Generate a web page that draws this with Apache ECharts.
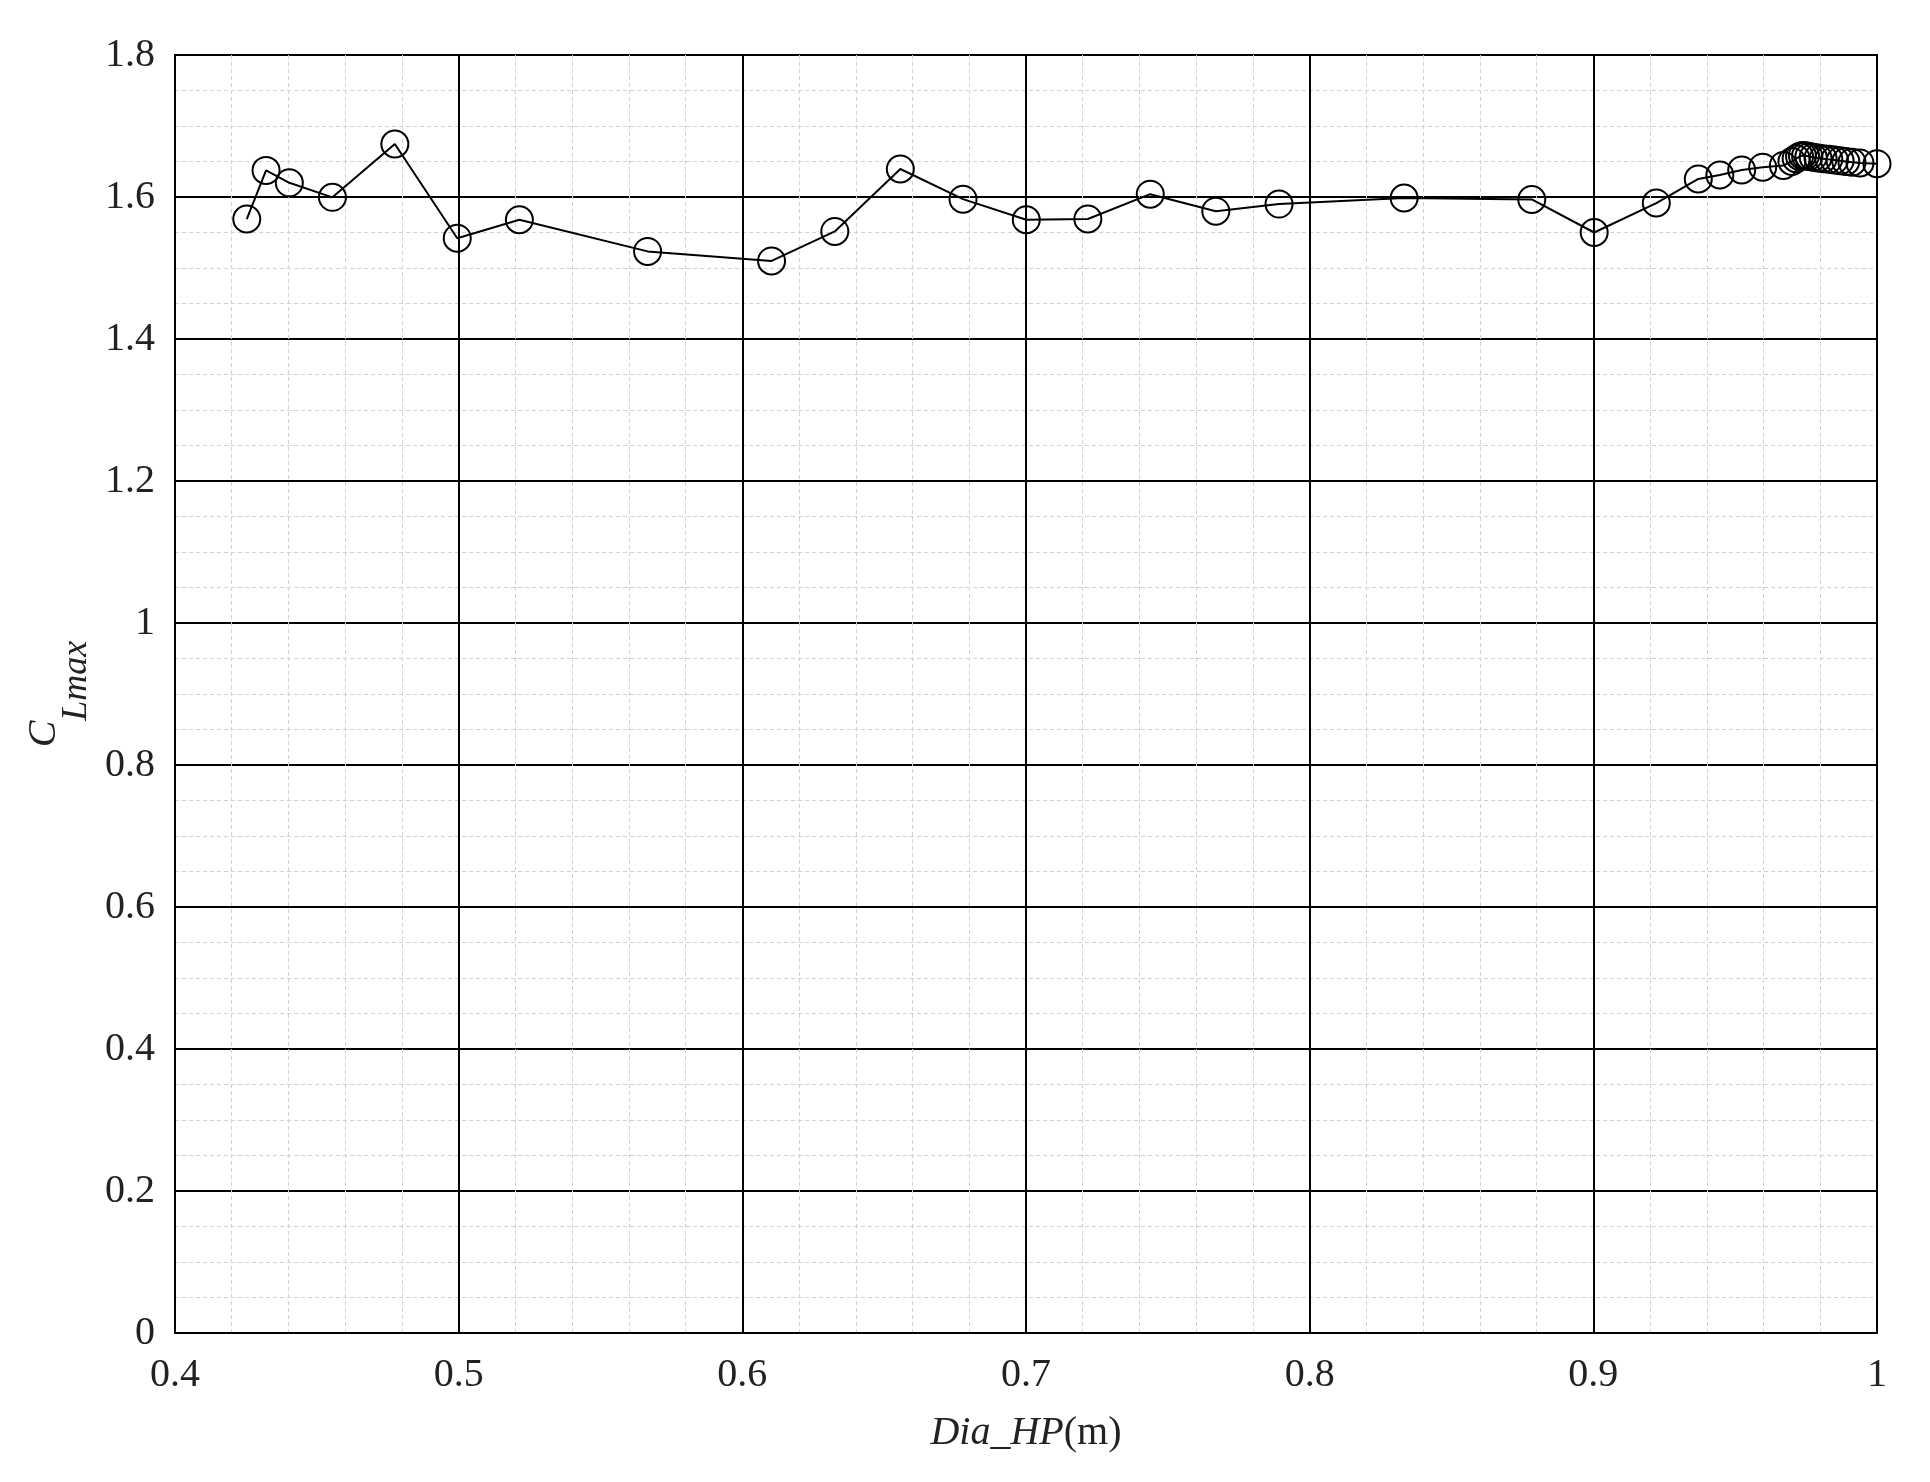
<!DOCTYPE html>
<html>
<head>
<meta charset="utf-8">
<script src="https://cdn.jsdelivr.net/npm/echarts@6/dist/echarts.min.js"></script>
<style>
html,body{margin:0;padding:0;background:#fff;}
#chart{width:1930px;height:1482px;}
</style>
</head>
<body>
<div id="chart"></div>
<script>
// Data
var diaHP = [0.4253, 0.4321, 0.4403, 0.4555, 0.4775, 0.4995, 0.5214, 0.5666, 0.6103,
  0.6326, 0.6557, 0.6778, 0.7001, 0.7218, 0.7438, 0.7669, 0.7892, 0.8333, 0.8783,
  0.9003, 0.9222, 0.9370, 0.9446, 0.9523, 0.9597, 0.9670,
  0.9700, 0.9715, 0.9727, 0.9737, 0.9748, 0.9760, 0.9775, 0.9792, 0.9810, 0.9830,
  0.9850, 0.9870, 0.9890, 0.9912, 0.9940, 1.0000];
var clMax = [1.569, 1.6375, 1.620, 1.5995, 1.6746, 1.542, 1.568, 1.5234, 1.510,
  1.5515, 1.6394, 1.597, 1.568, 1.569, 1.604, 1.580, 1.590, 1.5986, 1.5965,
  1.550, 1.5915, 1.6254, 1.631, 1.638, 1.642, 1.6445,
  1.650, 1.654, 1.657, 1.6585, 1.658, 1.657, 1.656, 1.655, 1.654, 1.653,
  1.652, 1.651, 1.650, 1.649, 1.648, 1.647];
var xTicks = {min: 0.4, max: 1.0, interval: 0.1};
var yTicks = {min: 0, max: 1.8, interval: 0.2};

var points = diaHP.map(function (x, i) { return [x, clMax[i]]; });

var chart = echarts.init(document.getElementById('chart'), null, {renderer: 'canvas'});
var fontFam = '"Liberation Serif", "Times New Roman", serif';
var minorLine = {show: true, lineStyle: {color: '#d2d2d2', width: 1, type: [4, 3]}};
chart.setOption({
  animation: false,
  backgroundColor: '#fff',
  grid: {left: 175, right: 53, top: 55, bottom: 149, show: true, borderColor: '#000', borderWidth: 2, backgroundColor: 'transparent'},
  xAxis: {
    type: 'value', min: xTicks.min, max: xTicks.max, interval: xTicks.interval,
    axisLine: {show: true, onZero: false, lineStyle: {color: '#000', width: 2}},
    axisTick: {show: false},
    axisLabel: {color: '#222', fontFamily: fontFam, fontSize: 40, margin: 22},
    splitLine: {show: true, lineStyle: {color: '#000', width: 2}},
    minorTick: {show: false, splitNumber: 5},
    minorSplitLine: minorLine,
    name: '{i|Dia_HP}{r|(m)}', nameLocation: 'middle', nameGap: 80,
    nameTextStyle: {rich: {
      i: {fontFamily: fontFam, fontStyle: 'italic', fontSize: 40, color: '#222'},
      r: {fontFamily: fontFam, fontSize: 40, color: '#222'}
    }}
  },
  yAxis: {
    type: 'value', min: yTicks.min, max: yTicks.max, interval: yTicks.interval,
    axisLine: {show: true, onZero: false, lineStyle: {color: '#000', width: 2}},
    axisTick: {show: false},
    axisLabel: {color: '#222', fontFamily: fontFam, fontSize: 40, margin: 20},
    splitLine: {show: true, lineStyle: {color: '#000', width: 2}},
    minorTick: {show: false, splitNumber: 4},
    minorSplitLine: minorLine,
    name: '{c|C}{s|Lmax}', nameLocation: 'middle', nameGap: 78, nameRotate: 90,
    nameTextStyle: {rich: {
      c: {fontFamily: fontFam, fontStyle: 'italic', fontSize: 40, color: '#222'},
      s: {fontFamily: fontFam, fontStyle: 'italic', fontSize: 36, color: '#222', padding: [64, 0, 0, 0]}
    }}
  },
  series: [{
    type: 'line',
    data: points,
    symbol: 'circle',
    symbolSize: 27,
    showSymbol: true,
    lineStyle: {color: '#000', width: 2},
    itemStyle: {color: 'rgba(0,0,0,0)', borderColor: '#000', borderWidth: 2},
    z: 5
  }]
});
</script>
</body>
</html>
